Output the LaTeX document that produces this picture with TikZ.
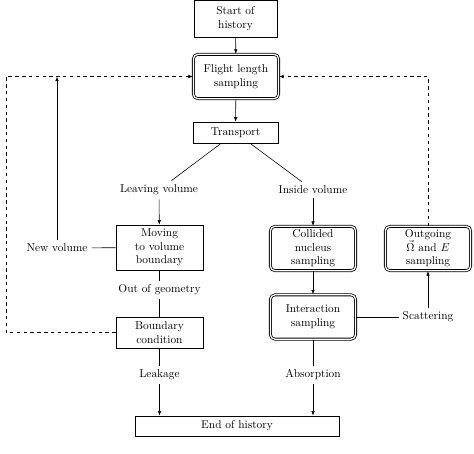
\documentclass[tikz,border=0pt]{standalone}
\usetikzlibrary{arrows.meta}

\begin{document}
\begin{tikzpicture}[x=0.88pt, y=-0.88pt,
    >={Latex[length=4pt,width=3pt]},
    box/.style={draw=black, line width=0.5pt, align=center, inner sep=1pt},
    dbox/.style={draw=black, line width=0.7pt, double, double distance=1.1pt,
      rounded corners=4pt, align=center, inner sep=1pt,
      minimum width=75pt, minimum height=39pt},
    lbl/.style={align=center, inner sep=3.5pt},
    link/.style={draw=black, line width=0.5pt},
    back/.style={draw=black, line width=0.5pt, dashed},
  ]
  \useasboundingbox (0,0) rectangle (474,453);

  % main column
  \node[box, minimum width=73pt, minimum height=32.6pt] (start) at (235.5,18.5) {Start of\\history};
  \node[dbox] (flight) at (236,76.5) {Flight length\\sampling};
  \node[box, minimum width=74.8pt, minimum height=18.5pt] (trans) at (235.5,132.5) {Transport};

  % leaving branch
  \node[lbl] (leave) at (159,190) {Leaving volume};
  \node[box, minimum width=76.6pt, minimum height=39.6pt] (move) at (159.5,247.5) {Moving\\to volume\\boundary};
  \node[lbl] (newv) at (57,248) {New volume};
  \node[lbl] (outgeo) at (159.5,290) {Out of geometry};
  \node[box, minimum width=76.6pt, minimum height=27.3pt] (bound) at (159.5,332.5) {Boundary\\condition};
  \node[lbl] (leak) at (159.5,375) {Leakage};

  % inside branch
  \node[lbl] (inside) at (313,190) {Inside volume};
  \node[dbox] (collide) at (313,248.5) {Collided\\nucleus\\sampling};
  \node[dbox] (inter) at (313,317) {Interaction\\sampling};
  \node[lbl] (absorb) at (313,375) {Absorption};
  \node[lbl] (scat) at (428,317) {Scattering};
  \node[dbox] (outg) at (428,248.5) {Outgoing\\$\vec{\Omega}$ and $E$\\sampling};

  \node[box, minimum width=179.5pt, minimum height=17.6pt] (end) at (237,426) {End of history};

  \coordinate (lft) at (6,76.5);

  % connectors
  \draw[link,->] (start) -- (flight);
  \draw[link,->] (flight) -- (trans);
  \draw[link] (trans) -- (leave);
  \draw[link] (trans) -- (inside);
  \draw[link,->] (leave) -- (move);
  \draw[link] (move) -- (outgeo);
  \draw[link] (outgeo) -- (bound);
  \draw[link] (bound) -- (leak);
  \draw[link,->] (leak.south) -- (leak.south |- end.north);
  \draw[link] (move) -- (newv);
  \draw[link,->] (newv.north) -- (newv.north |- flight.west);
  \draw[link,->] (inside) -- (collide);
  \draw[link,->] (collide) -- (inter);
  \draw[link] (inter) -- (absorb);
  \draw[link,->] (absorb.south) -- (absorb.south |- end.north);
  \draw[link] (inter) -- (scat);
  \draw[link,->] (scat) -- (outg);

  % loops back to flight length sampling
  \draw[back,->] (bound.west) -| (lft) -- (flight.west);
  \draw[back,->] (outg.north) |- (flight.east);

\end{tikzpicture}
\end{document}
